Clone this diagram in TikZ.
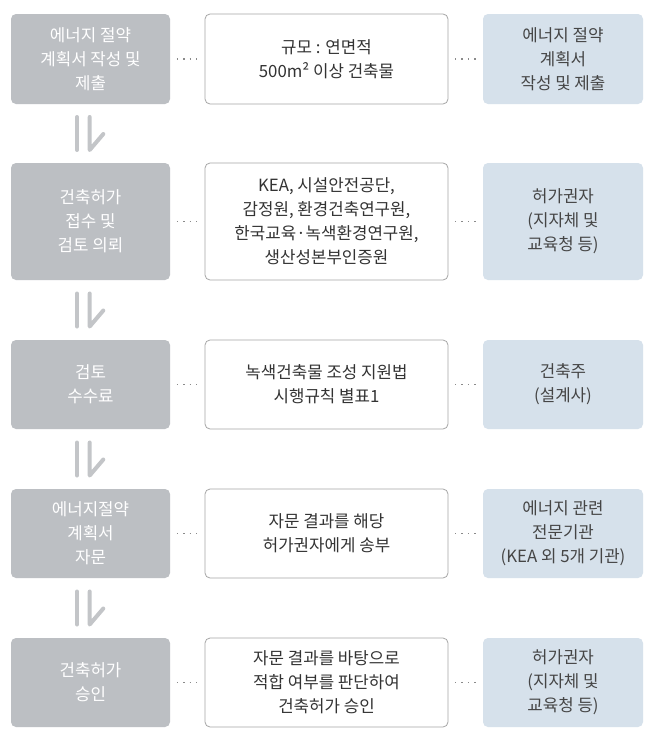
\documentclass[tikz,border=0pt]{standalone}
\usepackage{fontspec}
\setmainfont{Noto Sans CJK KR}
\usetikzlibrary{calc}
\definecolor{lgray}{HTML}{BCBFC3}
\definecolor{rblue}{HTML}{D6E1EB}
\definecolor{mborder}{HTML}{A6A6A6}
\definecolor{mtext}{HTML}{333333}
\definecolor{rtext}{HTML}{454545}
\definecolor{arrowc}{HTML}{C3C5C8}
\definecolor{dotc}{HTML}{8A8A8A}
\begin{document}
\begin{tikzpicture}[x=1pt,y=-1pt,
  box/.style={rectangle,rounded corners=5pt,align=center,inner sep=0pt,
    font=\fontsize{16.8}{24}\selectfont},
  lbox/.style={box,fill=lgray,text=white,minimum width=159pt},
  mbox/.style={box,draw=mborder,line width=0.8pt,fill=white,text=mtext,minimum width=243pt},
  rbox/.style={box,fill=rblue,text=rtext,minimum width=160pt},
  dots/.style={draw=dotc,line width=1.3pt,dash pattern=on 1.3pt off 5.1pt},
  flow/.style={draw=arrowc,line width=4pt,line cap=round,line join=round}]
\useasboundingbox (0,0) rectangle (658,736);
\fill[white] (0,0) rectangle (658,736);
\node[lbox,minimum height=90pt] (L1) at (90.5,59) {에너지 절약\\계획서 작성 및\\제출};
\node[mbox,minimum height=90pt] (M1) at (326.5,59) {규모 : 연면적\\500m² 이상 건축물};
\node[rbox,minimum height=90pt] (R1) at (563,59) {에너지 절약\\계획서\\작성 및 제출};

\node[lbox,minimum height=117pt] (L2) at (90.5,221.5) {건축허가\\접수 및\\검토 의뢰};
\node[mbox,minimum height=117pt] (M2) at (326.5,221.5) {KEA, 시설안전공단,\\감정원, 환경건축연구원,\\한국교육·녹색환경연구원,\\생산성본부인증원};
\node[rbox,minimum height=117pt] (R2) at (563,221.5) {허가권자\\(지자체 및\\교육청 등)};

\node[lbox,minimum height=89pt] (L3) at (90.5,384.5) {검토\\수수료};
\node[mbox,minimum height=89pt] (M3) at (326.5,384.5) {녹색건축물 조성 지원법\\시행규칙 별표1};
\node[rbox,minimum height=89pt] (R3) at (563,384.5) {건축주\\(설계사)};

\node[lbox,minimum height=89pt] (L4) at (90.5,533.5) {에너지절약\\계획서\\자문};
\node[mbox,minimum height=89pt] (M4) at (326.5,533.5) {자문 결과를 해당\\허가권자에게 송부};
\node[rbox,minimum height=89pt] (R4) at (563,533.5) {에너지 관련\\전문기관\\(KEA 외 5개 기관)};

\node[lbox,minimum height=89pt] (L5) at (90.5,682.5) {건축허가\\승인};
\node[mbox,minimum height=89pt] (M5) at (326.5,682.5) {자문 결과를 바탕으로\\적합 여부를 판단하여\\건축허가 승인};
\node[rbox,minimum height=89pt] (R5) at (563,682.5) {허가권자\\(지자체 및\\교육청 등)};

\foreach \i in {1,...,5}{
  \draw[dots,shorten <=6.6pt,shorten >=7.6pt] (L\i.east) -- (M\i.west);
  \draw[dots,shorten <=6.6pt,shorten >=5.6pt] (M\i.east) -- (R\i.west);
}
\foreach \a/\b in {1/2,2/3,3/4,4/5}{
  \coordinate (g\a) at ($(L\a.south)!0.5!(L\b.north)$);
  \draw[flow] ($(g\a)+(-13.5,-16.5)$) -- ($(g\a)+(-13.5,16.5)$);
  \draw[flow] ($(g\a)+(-0.8,-16.5)$) -- ($(g\a)+(-0.8,16.5)$) -- ($(g\a)+(12.8,0.5)$);
}
\end{tikzpicture}
\end{document}
